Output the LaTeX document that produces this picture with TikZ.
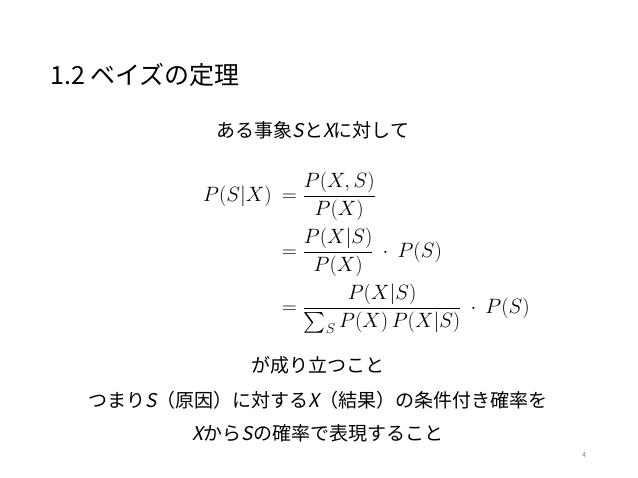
\documentclass[tikz,border=0pt]{standalone}
\usepackage{amsmath}
\usepackage{fontspec}
\setmainfont{Noto Sans CJK JP}
\newfontfamily\jpi[FakeSlant=0.2]{Noto Sans CJK JP}
\begin{document}
\begin{tikzpicture}[x=1pt,y=-1pt,
  jp/.style={inner sep=0pt,font=\fontsize{19}{22}\selectfont},
  eq/.style={inner sep=0pt,font=\fontsize{20}{24}\selectfont}]
\useasboundingbox[fill=white] (0,0) rectangle (638,478);
\node[inner sep=0pt,anchor=west,font=\fontsize{25}{28}\selectfont] (title) at (50,75) {1.2 ベイズの定理};
\node[jp] (intro) at (313,130) {ある事象{\jpi S}と{\jpi X}に対して};
\node[eq,anchor=north west] (formula) at (203,172) {$\begin{aligned}
P(S|X)\ &= \frac{P(X,S)}{P(X)}\\[3pt]
&= \frac{P(X|S)}{P(X)}\ \cdot\ P(S)\\[3pt]
&= \frac{P(X|S)}{\sum_S P(X)\,P(X|S)}\ \cdot\ P(S)
\end{aligned}$};
\node[jp] (l1) at (318,365) {が成り立つこと};
\node[jp] (l2) at (318,400) {つまり{\jpi S}（原因）に対する{\jpi X}（結果）の条件付き確率を};
\node[jp] (l3) at (318,433) {{\jpi X}から{\jpi S}の確率で表現すること};
\node[inner sep=0pt,text=gray,font=\fontsize{7}{8}\selectfont] (pg) at (584,455) {4};
\end{tikzpicture}
\end{document}
